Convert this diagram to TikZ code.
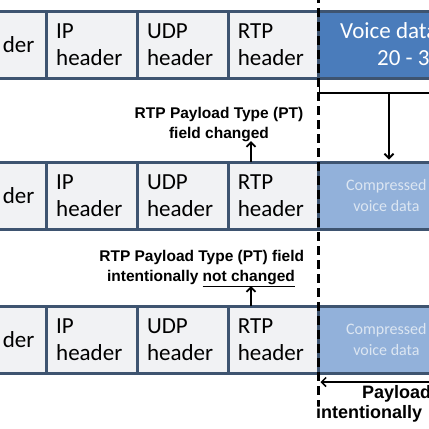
\documentclass[tikz,border=0pt]{standalone}
\usepackage{fontspec}
\setmainfont{Carlito}
\newfontfamily\labfont{Liberation Sans}
\usetikzlibrary{arrows.meta}
\definecolor{bord}{HTML}{3E5470}
\definecolor{cellgray}{HTML}{F1F2F4}
\definecolor{voiceblue}{HTML}{4A7CBB}
\definecolor{compblue}{HTML}{92B1DA}
\definecolor{comptext}{HTML}{DCE6F2}
\newcommand\hdrfont{\fontsize{23}{27}\selectfont}
\newcommand\cmpfont{\fontsize{16}{21}\selectfont}
\newcommand\lblfont{\labfont\bfseries\fontsize{15.5}{19.5}\selectfont}
\newcommand\lblbigfont{\labfont\bfseries\fontsize{18}{21}\selectfont}
\newcommand\myul[1]{\setbox0=\hbox{#1}\rlap{\rule[-5.6pt]{\wd0}{1.3pt}}\box0}
\tikzset{
  cellbox/.style={draw=bord, line width=3pt, fill=cellgray, minimum height=67pt,
    minimum width=90.8pt, inner sep=0pt, outer sep=0pt},
  firstbox/.style={cellbox, minimum width=55.4pt},
  voicebox/.style={cellbox, fill=voiceblue, minimum width=135pt},
  compbox/.style={cellbox, fill=compblue, minimum width=135pt},
  htxt/.style={font=\hdrfont, text=black, inner sep=0pt, anchor=base west},
  vtxt/.style={font=\hdrfont, text=white, inner sep=0pt, anchor=base west},
  ctxt/.style={font=\cmpfont, text=comptext, inner sep=0pt, anchor=base},
  lbl/.style={font=\lblfont, inner sep=0pt, anchor=base},
  lblbig/.style={font=\lblbigfont, inner sep=0pt, anchor=base west},
  arr/.style={line width=1.8pt, -{Straight Barb[length=4.5pt,width=9pt]}},
  brc/.style={line width=1.8pt, line join=round},
  divider/.style={line width=3pt, dash pattern=on 9pt off 5pt, dash phase=6pt}
}
% header cell: name, x, y, line 1, line 2
\newcommand\mkhcell[5]{%
  \node[cellbox] (#1) at (#2,#3) {};
  \node[htxt] (#1a) at ([xshift=9.5pt,yshift=6.1pt]#1.west) {#4};
  \node[htxt] (#1b) at ([xshift=9.5pt,yshift=-20.9pt]#1.west) {#5};}
\newcommand\mkfcell[3]{%
  \node[firstbox] (#1) at (#2,#3) {};
  \node[htxt, anchor=base east] (#1a) at ([xshift=-11.9pt,yshift=-8pt]#1.east) {der};}
\newcommand\mkccell[3]{%
  \node[compbox] (#1) at (#2,#3) {};
  \node[ctxt] (#1a) at ([yshift=5pt]#1.center) {Compressed};
  \node[ctxt] (#1b) at ([yshift=-16pt]#1.center) {voice data};}
\begin{document}
\begin{tikzpicture}[x=1pt,y=-1pt]
\useasboundingbox (0,0) rectangle (429,429);
\clip (0,0) rectangle (429,429);
% row 1
\mkfcell{f1}{18.8}{44.5}
\mkhcell{ipa}{91.9}{44.5}{IP}{header}
\mkhcell{udpa}{182.7}{44.5}{UDP}{header}
\mkhcell{rtpa}{273.5}{44.5}{RTP}{header}
\node[voicebox] (voice1) at (386.4,44.5) {};
\node[vtxt] (vt1) at ([xshift=21.1pt,yshift=6.1pt]voice1.west) {Voice data};
\node[vtxt] (vt2) at ([xshift=58.1pt,yshift=-20.9pt]voice1.west) {20 - 30};
% row 2
\mkfcell{f2}{18.8}{195.5}
\mkhcell{ipb}{91.9}{195.5}{IP}{header}
\mkhcell{udpb}{182.7}{195.5}{UDP}{header}
\mkhcell{rtpb}{273.5}{195.5}{RTP}{header}
\mkccell{compb}{386.4}{195.5}
% row 3
\mkfcell{f3}{18.8}{339.5}
\mkhcell{ipc}{91.9}{339.5}{IP}{header}
\mkhcell{udpc}{182.7}{339.5}{UDP}{header}
\mkhcell{rtpc}{273.5}{339.5}{RTP}{header}
\mkccell{compc}{386.4}{339.5}
% labels
\node[lbl] (t1a) at (219,118) {RTP Payload Type (PT)};
\node[lbl] (t1b) at (219,138) {field changed};
\node[lbl] (t2a) at (201.7,261.7) {RTP Payload Type (PT) field};
\node[lbl] (t2b) at (201,281.7) {intentionally \myul{not changed}};
\node[lblbig] (p1) at (362,398) {Payload};
\node[lblbig] (p2) at (316,418) {intentionally};
% arrows
\coordinate (a1x) at (251,0);
\coordinate (a1e) at (251,141);
\draw[arr] (rtpb.north -| a1x) -- (a1e);
\coordinate (a2e) at (251,286);
\draw[arr] (rtpc.north -| a1x) -- (a2e);
% brace
\coordinate (bl) at (319.5,87);
\coordinate (blc) at (319.5,93);
\coordinate (brc) at (459.5,93);
\coordinate (br) at (459.5,87);
\coordinate (bst) at (389,93);
\draw[brc] (bl) -- (blc) -- (brc) -- (br);
\draw[arr] (bst) -- ([yshift=2.5pt]compb.north -| bst);
% bottom arrow
\coordinate (ba0) at (459,382);
\coordinate (ba1) at (320.5,382);
\draw[arr, line width=1.5pt] (ba0) -- (ba1);
% dashed divider
\coordinate (d0) at (318.6,0);
\coordinate (d1) at (318.6,406);
\draw[divider] (d0) -- (d1);
\end{tikzpicture}
\end{document}
